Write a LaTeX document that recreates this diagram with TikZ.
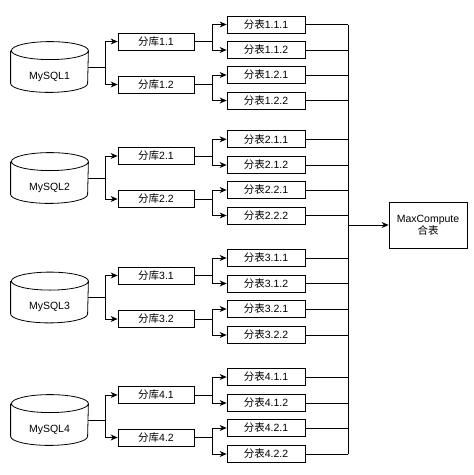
\documentclass[tikz,border=0pt]{standalone}
\usepackage{fontspec}
\setmainfont{Liberation Sans}
\newfontfamily\cjk{Noto Sans CJK SC}
\usetikzlibrary{arrows.meta}
\begin{document}
\begin{tikzpicture}[x=1pt,y=1pt,line width=0.8pt,
  every node/.style={font=\fontsize{10.5}{12.5}\selectfont, inner sep=0pt},
  kubox/.style={draw, minimum width=76pt, minimum height=17pt},
  tbbox/.style={draw, minimum width=78pt, minimum height=17pt},
  cylbox/.style={minimum width=77pt, minimum height=50pt},
  mcbox/.style={draw, minimum width=78pt, minimum height=46pt, align=center},
  conn/.style={line width=0.8pt},
  arr/.style={conn, -{Stealth[length=7pt,width=6pt]}}
]
\useasboundingbox (0,0) rectangle (474,-475);
\coordinate (bus) at (348,-225);
\foreach \g/\ta/\tb/\tc/\td/\ka/\kb/\m in {1/24.5/50/75/100.5/41.5/84.5/67, 2/139.3/165/190/215.5/156/199/178, 3/258/283.5/309/335/275.5/319/297.5, 4/377/403/428/454/395/437.5/420}{
  \node[cylbox] (m\g) at (49.5,-\m) {};
  \draw ([yshift=-9pt]m\g.north west) -- ([yshift=9pt]m\g.south west)
    arc[start angle=180,end angle=360,x radius=38.5pt,y radius=9pt]
    -- ([yshift=-9pt]m\g.north east)
    arc[start angle=0,end angle=180,x radius=38.5pt,y radius=9pt]
    arc[start angle=180,end angle=360,x radius=38.5pt,y radius=9pt];
  \node (mt\g) at ([yshift=-9.5pt]m\g.center) {MySQL\g};
  \node[kubox] (k\g1) at (156,-\ka) {{\cjk 分库}\g.1};
  \node[kubox] (k\g2) at (156,-\kb) {{\cjk 分库}\g.2};
  \node[tbbox] (t\g11) at (266,-\ta) {{\cjk 分表}\g.1.1};
  \node[tbbox] (t\g12) at (266,-\tb) {{\cjk 分表}\g.1.2};
  \node[tbbox] (t\g21) at (266,-\tc) {{\cjk 分表}\g.2.1};
  \node[tbbox] (t\g22) at (266,-\td) {{\cjk 分表}\g.2.2};
  \draw[arr] (m\g.east) -- ++(17,0) |- (k\g1.west);
  \draw[arr] (m\g.east) -- ++(17,0) |- (k\g2.west);
  \draw[arr] (k\g1.east) -- ++(18,0) |- (t\g11.west);
  \draw[arr] (k\g1.east) -- ++(18,0) |- (t\g12.west);
  \draw[arr] (k\g2.east) -- ++(18,0) |- (t\g21.west);
  \draw[arr] (k\g2.east) -- ++(18,0) |- (t\g22.west);
  \draw[conn] (t\g11.east) -- (t\g11.east -| bus);
  \draw[conn] (t\g12.east) -- (t\g12.east -| bus);
  \draw[conn] (t\g21.east) -- (t\g21.east -| bus);
  \draw[conn] (t\g22.east) -- (t\g22.east -| bus);
}
\draw[conn] (t111.east -| bus) -- (t422.east -| bus);
\node[mcbox] (mc) at (428,-225) {MaxCompute\\{\cjk 合表}};
\draw[arr] (bus) -- (mc.west);
\end{tikzpicture}
\end{document}
